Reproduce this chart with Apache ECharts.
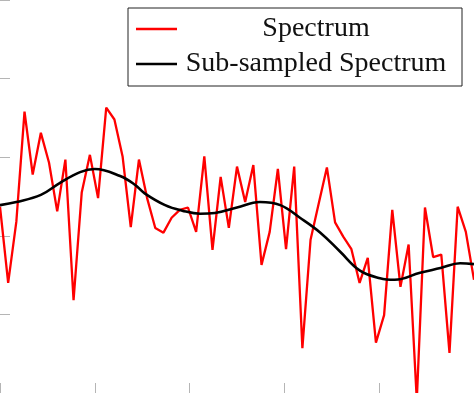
<!DOCTYPE html>
<html>
<head>
<meta charset="utf-8">
<script src="https://cdn.jsdelivr.net/npm/echarts@6/dist/echarts.min.js"></script>
<style>
html,body{margin:0;padding:0;background:#fff;}
#chart{width:474px;height:393px;}
</style>
</head>
<body>
<div id="chart"></div>
<script>
// Spectrum (red), one value per sample index 0..58
const spectrumValues = [
  23.7, 14.0, 21.8, 35.8, 27.8, 33.1, 29.3, 23.1, 29.7, 11.8,
  25.5, 30.3, 24.8, 36.3, 34.8, 30.1, 21.1, 29.7, 24.8, 21.0,
  20.4, 22.3, 23.3, 23.6, 20.5, 30.1, 18.2, 27.5, 21.0, 28.8,
  24.3, 29.0, 16.3, 20.5, 28.5, 18.3, 28.8, 5.7, 19.5, 24.1,
  28.7, 21.7, 19.9, 18.3, 14.0, 17.2, 6.4, 9.9, 23.3, 13.5,
  18.9, -0.9, 23.6, 17.3, 17.6, 5.1, 23.7, 20.5, 14.4
];
// Sub-sampled spectrum (black), read at these sample positions
const subX = [0, 2, 5, 7.3, 9.8, 11.6, 14.7, 16.5, 17.7, 20.2, 22.3, 24.5, 26.3, 29, 31.8, 34.3, 36.7, 39.2, 41.6, 44, 46.5, 48.3, 51.4, 53.9, 56.3, 58];
const subY = [23.9, 24.3, 25.2, 26.7, 28.1, 28.5, 27.6, 26.5, 25.4, 23.9, 23.2, 22.8, 22.9, 23.6, 24.3, 23.9, 22.3, 20.4, 18.0, 15.6, 14.6, 14.4, 15.3, 15.9, 16.5, 16.4];
const seriesNames = ['Spectrum', 'Sub-sampled Spectrum'];
const seriesColors = ['#ff0000', '#000000'];
const xMin = 0, xMax = 58, xInterval = 11.6;
const yMin = 0, yMax = 50, yInterval = 10;

const tickStyle = {show: true, inside: true, length: 10, lineStyle: {color: '#b5b5b5', width: 1}};
function xAxisCfg(pos) {
  return {type: 'value', position: pos, min: xMin, max: xMax, interval: xInterval,
    axisLine: {show: false}, axisLabel: {show: false}, splitLine: {show: false}, axisTick: tickStyle};
}
function yAxisCfg(pos) {
  return {type: 'value', position: pos, min: yMin, max: yMax, interval: yInterval,
    axisLine: {show: false}, axisLabel: {show: false}, splitLine: {show: false}, axisTick: tickStyle};
}

const chart = echarts.init(document.getElementById('chart'), null, {renderer: 'canvas'});
chart.setOption({
  backgroundColor: '#fff',
  animation: false,
  grid: {left: 0, right: 0, top: 0, bottom: 0, containLabel: false},
  xAxis: [xAxisCfg('bottom'), xAxisCfg('top')],
  yAxis: [yAxisCfg('left'), yAxisCfg('right')],
  legend: {
    data: seriesNames.map((n, i) => ({name: n, icon: 'rect', itemStyle: {color: seriesColors[i], borderWidth: 0}})),
    orient: 'vertical',
    left: 128, top: 8,
    padding: [7, 12, 8, 8],
    itemGap: 7,
    itemWidth: 41,
    itemHeight: 2.5,
    backgroundColor: '#fff',
    borderColor: '#222',
    borderWidth: 1,
    borderRadius: 0,
    z: 10,
    formatter: function (name) { return '{t|' + name + '}'; },
    textStyle: {
      rich: {
        t: {width: 268, align: 'center', fontFamily: 'Liberation Serif', fontSize: 28, lineHeight: 26, color: '#111'}
      }
    }
  },
  series: [
    {
      name: seriesNames[0], type: 'line', symbol: 'none', clip: true,
      lineStyle: {color: seriesColors[0], width: 2.3},
      itemStyle: {color: seriesColors[0]},
      data: spectrumValues.map((v, i) => [i, v]),
      z: 2
    },
    {
      name: seriesNames[1], type: 'line', symbol: 'none', smooth: 0.4, clip: true,
      lineStyle: {color: seriesColors[1], width: 2.6},
      itemStyle: {color: seriesColors[1]},
      data: subX.map((x, i) => [x, subY[i]]),
      z: 3
    }
  ]
});
</script>
</body>
</html>
